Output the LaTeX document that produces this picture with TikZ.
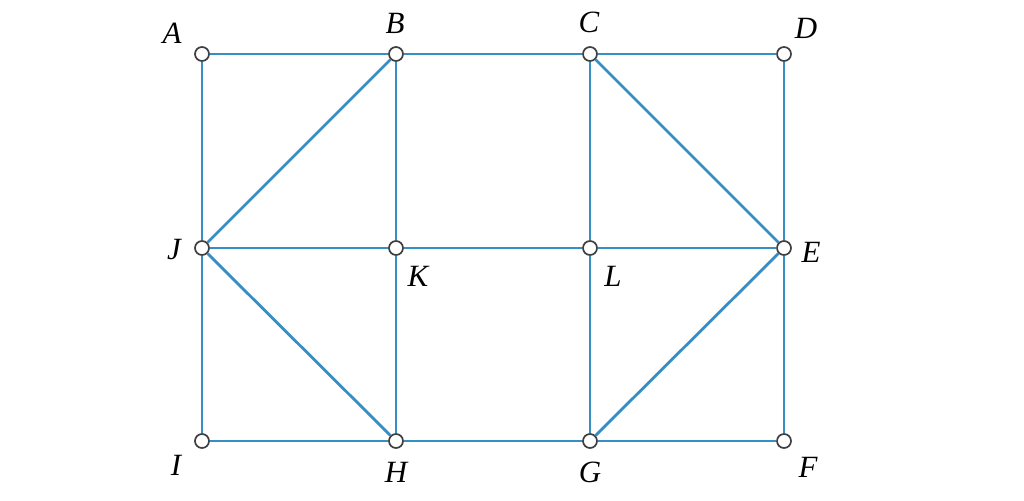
\documentclass[tikz,border=0pt]{standalone}
\usepackage{fontspec}
\setmainfont{Liberation Serif}
\definecolor{edgeblue}{RGB}{55,142,196}
\tikzset{
  vert/.style={circle,draw=black!75,fill=white,line width=1.2pt,inner sep=0pt,minimum size=0.35cm},
  edg/.style={draw=edgeblue,line width=2pt},
  lbl/.style={font=\fontsize{22}{26}\selectfont\itshape,inner sep=0pt}
}
\begin{document}
\begin{tikzpicture}[x=0.025cm,y=-0.025cm]
    \useasboundingbox (0,0) rectangle (1024,500);
    % vertices
    \node[vert] (A) at (202,54) {};
    \node[vert] (B) at (396,54) {};
    \node[vert] (C) at (590,54) {};
    \node[vert] (D) at (784,54) {};
    \node[vert] (J) at (202,248) {};
    \node[vert] (K) at (396,248) {};
    \node[vert] (L) at (590,248) {};
    \node[vert] (E) at (784,248) {};
    \node[vert] (I) at (202,441) {};
    \node[vert] (H) at (396,441) {};
    \node[vert] (G) at (590,441) {};
    \node[vert] (F) at (784,441) {};
    % edges
    \path[edg] (A)--(B)--(C)--(D)--(E)--(F)--(G)--(H)--(I)--(J)--(A);
    \path[edg] (J)--(K)--(L)--(E);
    \path[edg] (B)--(K)--(H);
    \path[edg] (C)--(L)--(G);
    \path[edg] (J)--(B);
    \path[edg] (J)--(H);
    \path[edg] (C)--(E);
    \path[edg] (G)--(E);
    % labels
    \node[lbl] (lA) at (172,33) {A};
    \node[lbl] (lB) at (395,23) {B};
    \node[lbl] (lC) at (589,22) {C};
    \node[lbl] (lD) at (806,28) {D};
    \node[lbl] (lJ) at (174,250) {J};
    \node[lbl] (lK) at (418,276) {K};
    \node[lbl] (lL) at (613,276) {L};
    \node[lbl] (lE) at (811,252) {E};
    \node[lbl] (lI) at (176,465) {I};
    \node[lbl] (lH) at (396,472) {H};
    \node[lbl] (lG) at (590,472) {G};
    \node[lbl] (lF) at (808,467) {F};
\end{tikzpicture}
\end{document}
